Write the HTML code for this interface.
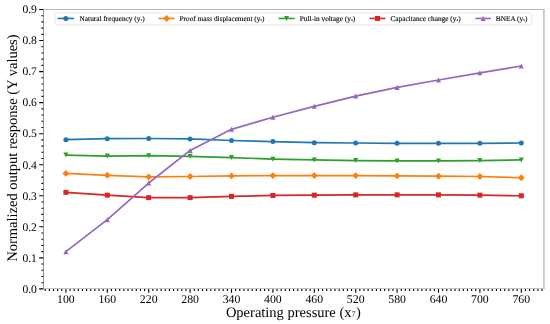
<!DOCTYPE html><html><head><meta charset="utf-8"><title>chart</title><style>html,body{margin:0;padding:0;background:#fff}svg{display:block}text{text-rendering:geometricPrecision;font-family:"Liberation Serif","DejaVu Serif",serif;fill:#000}</style></head><body>
<svg width="550" height="324" viewBox="0 0 550 324">
<rect width="550" height="324" fill="#fff"/>
<path d="M43.5,9.5 H544.6" fill="none" stroke="#999" stroke-width="0.7"/>
<path d="M543.9,9.2 V289" fill="none" stroke="#bdbdbd" stroke-width="1.5"/>
<path d="M43.5,288.5 H544.6" fill="none" stroke="#c4c4c4" stroke-width="1"/>
<polyline points="65.90,139.67 107.30,138.71 148.70,138.49 190.10,138.96 231.50,140.51 272.90,141.59 314.30,142.68 355.70,142.99 397.10,143.30 438.50,143.30 479.90,143.30 521.30,142.99" fill="none" stroke="#1f77b4" stroke-width="1.7" stroke-linejoin="round"/>
<circle cx="65.90" cy="139.67" r="2.50" fill="#1f77b4"/>
<circle cx="107.30" cy="138.71" r="2.50" fill="#1f77b4"/>
<circle cx="148.70" cy="138.49" r="2.50" fill="#1f77b4"/>
<circle cx="190.10" cy="138.96" r="2.50" fill="#1f77b4"/>
<circle cx="231.50" cy="140.51" r="2.50" fill="#1f77b4"/>
<circle cx="272.90" cy="141.59" r="2.50" fill="#1f77b4"/>
<circle cx="314.30" cy="142.68" r="2.50" fill="#1f77b4"/>
<circle cx="355.70" cy="142.99" r="2.50" fill="#1f77b4"/>
<circle cx="397.10" cy="143.30" r="2.50" fill="#1f77b4"/>
<circle cx="438.50" cy="143.30" r="2.50" fill="#1f77b4"/>
<circle cx="479.90" cy="143.30" r="2.50" fill="#1f77b4"/>
<circle cx="521.30" cy="142.99" r="2.50" fill="#1f77b4"/>
<polyline points="65.90,173.41 107.30,175.28 148.70,176.83 190.10,176.52 231.50,175.90 272.90,175.59 314.30,175.59 355.70,175.59 397.10,175.90 438.50,176.21 479.90,176.52 521.30,177.76" fill="none" stroke="#ff7f0e" stroke-width="1.7" stroke-linejoin="round"/>
<polygon points="65.90,169.96 69.35,173.41 65.90,176.86 62.45,173.41" fill="#ff7f0e"/>
<polygon points="107.30,171.83 110.75,175.28 107.30,178.73 103.85,175.28" fill="#ff7f0e"/>
<polygon points="148.70,173.38 152.15,176.83 148.70,180.28 145.25,176.83" fill="#ff7f0e"/>
<polygon points="190.10,173.07 193.55,176.52 190.10,179.97 186.65,176.52" fill="#ff7f0e"/>
<polygon points="231.50,172.45 234.95,175.90 231.50,179.35 228.05,175.90" fill="#ff7f0e"/>
<polygon points="272.90,172.14 276.35,175.59 272.90,179.04 269.45,175.59" fill="#ff7f0e"/>
<polygon points="314.30,172.14 317.75,175.59 314.30,179.04 310.85,175.59" fill="#ff7f0e"/>
<polygon points="355.70,172.14 359.15,175.59 355.70,179.04 352.25,175.59" fill="#ff7f0e"/>
<polygon points="397.10,172.45 400.55,175.90 397.10,179.35 393.65,175.90" fill="#ff7f0e"/>
<polygon points="438.50,172.76 441.95,176.21 438.50,179.66 435.05,176.21" fill="#ff7f0e"/>
<polygon points="479.90,173.07 483.35,176.52 479.90,179.97 476.45,176.52" fill="#ff7f0e"/>
<polygon points="521.30,174.31 524.75,177.76 521.30,181.21 517.85,177.76" fill="#ff7f0e"/>
<polyline points="65.90,155.10 107.30,156.03 148.70,155.72 190.10,156.34 231.50,157.58 272.90,159.13 314.30,159.97 355.70,160.59 397.10,160.90 438.50,160.90 479.90,160.59 521.30,159.97" fill="none" stroke="#2ca02c" stroke-width="1.7" stroke-linejoin="round"/>
<polygon points="65.90,157.60 68.40,152.60 63.40,152.60" fill="#2ca02c"/>
<polygon points="107.30,158.53 109.80,153.53 104.80,153.53" fill="#2ca02c"/>
<polygon points="148.70,158.22 151.20,153.22 146.20,153.22" fill="#2ca02c"/>
<polygon points="190.10,158.84 192.60,153.84 187.60,153.84" fill="#2ca02c"/>
<polygon points="231.50,160.08 234.00,155.08 229.00,155.08" fill="#2ca02c"/>
<polygon points="272.90,161.63 275.40,156.63 270.40,156.63" fill="#2ca02c"/>
<polygon points="314.30,162.47 316.80,157.47 311.80,157.47" fill="#2ca02c"/>
<polygon points="355.70,163.09 358.20,158.09 353.20,158.09" fill="#2ca02c"/>
<polygon points="397.10,163.40 399.60,158.40 394.60,158.40" fill="#2ca02c"/>
<polygon points="438.50,163.40 441.00,158.40 436.00,158.40" fill="#2ca02c"/>
<polygon points="479.90,163.09 482.40,158.09 477.40,158.09" fill="#2ca02c"/>
<polygon points="521.30,162.47 523.80,157.47 518.80,157.47" fill="#2ca02c"/>
<polyline points="65.90,192.35 107.30,195.15 148.70,197.63 190.10,197.63 231.50,196.39 272.90,195.46 314.30,195.15 355.70,194.84 397.10,194.84 438.50,194.84 479.90,195.15 521.30,195.77" fill="none" stroke="#d62728" stroke-width="1.7" stroke-linejoin="round"/>
<rect x="63.40" y="189.85" width="5.00" height="5.00" fill="#d62728"/>
<rect x="104.80" y="192.65" width="5.00" height="5.00" fill="#d62728"/>
<rect x="146.20" y="195.13" width="5.00" height="5.00" fill="#d62728"/>
<rect x="187.60" y="195.13" width="5.00" height="5.00" fill="#d62728"/>
<rect x="229.00" y="193.89" width="5.00" height="5.00" fill="#d62728"/>
<rect x="270.40" y="192.96" width="5.00" height="5.00" fill="#d62728"/>
<rect x="311.80" y="192.65" width="5.00" height="5.00" fill="#d62728"/>
<rect x="353.20" y="192.34" width="5.00" height="5.00" fill="#d62728"/>
<rect x="394.60" y="192.34" width="5.00" height="5.00" fill="#d62728"/>
<rect x="436.00" y="192.34" width="5.00" height="5.00" fill="#d62728"/>
<rect x="477.40" y="192.65" width="5.00" height="5.00" fill="#d62728"/>
<rect x="518.80" y="193.27" width="5.00" height="5.00" fill="#d62728"/>
<polyline points="65.90,251.65 107.30,219.67 148.70,183.04 190.10,150.44 231.50,129.33 272.90,117.22 314.30,106.36 355.70,96.11 397.10,87.42 438.50,79.97 479.90,72.83 521.30,66.00" fill="none" stroke="#9467bd" stroke-width="1.7" stroke-linejoin="round"/>
<polygon points="65.90,249.15 68.40,254.15 63.40,254.15" fill="#9467bd"/>
<polygon points="107.30,217.17 109.80,222.17 104.80,222.17" fill="#9467bd"/>
<polygon points="148.70,180.54 151.20,185.54 146.20,185.54" fill="#9467bd"/>
<polygon points="190.10,147.94 192.60,152.94 187.60,152.94" fill="#9467bd"/>
<polygon points="231.50,126.83 234.00,131.83 229.00,131.83" fill="#9467bd"/>
<polygon points="272.90,114.72 275.40,119.72 270.40,119.72" fill="#9467bd"/>
<polygon points="314.30,103.86 316.80,108.86 311.80,108.86" fill="#9467bd"/>
<polygon points="355.70,93.61 358.20,98.61 353.20,98.61" fill="#9467bd"/>
<polygon points="397.10,84.92 399.60,89.92 394.60,89.92" fill="#9467bd"/>
<polygon points="438.50,77.47 441.00,82.47 436.00,82.47" fill="#9467bd"/>
<polygon points="479.90,70.33 482.40,75.33 477.40,75.33" fill="#9467bd"/>
<polygon points="521.30,63.50 523.80,68.50 518.80,68.50" fill="#9467bd"/>
<path d="M43.5,288.90 h-4.3 M43.5,257.86 h-4.3 M43.5,226.81 h-4.3 M43.5,195.77 h-4.3 M43.5,164.72 h-4.3 M43.5,133.68 h-4.3 M43.5,102.63 h-4.3 M43.5,71.59 h-4.3 M43.5,40.54 h-4.3 M43.5,9.50 h-4.3 M65.90,288.9 v3.9 M107.30,288.9 v3.9 M148.70,288.9 v3.9 M190.10,288.9 v3.9 M231.50,288.9 v3.9 M272.90,288.9 v3.9 M314.30,288.9 v3.9 M355.70,288.9 v3.9 M397.10,288.9 v3.9 M438.50,288.9 v3.9 M479.90,288.9 v3.9 M521.30,288.9 v3.9" stroke="#000" stroke-width="1.1" fill="none"/>
<path d="M43.5,282.69 h-2.1 M43.5,276.48 h-2.1 M43.5,270.27 h-2.1 M43.5,264.06 h-2.1 M43.5,251.65 h-2.1 M43.5,245.44 h-2.1 M43.5,239.23 h-2.1 M43.5,233.02 h-2.1 M43.5,220.60 h-2.1 M43.5,214.39 h-2.1 M43.5,208.18 h-2.1 M43.5,201.98 h-2.1 M43.5,189.56 h-2.1 M43.5,183.35 h-2.1 M43.5,177.14 h-2.1 M43.5,170.93 h-2.1 M43.5,158.51 h-2.1 M43.5,152.30 h-2.1 M43.5,146.10 h-2.1 M43.5,139.89 h-2.1 M43.5,127.47 h-2.1 M43.5,121.26 h-2.1 M43.5,115.05 h-2.1 M43.5,108.84 h-2.1 M43.5,96.42 h-2.1 M43.5,90.22 h-2.1 M43.5,84.01 h-2.1 M43.5,77.80 h-2.1 M43.5,65.38 h-2.1 M43.5,59.17 h-2.1 M43.5,52.96 h-2.1 M43.5,46.75 h-2.1 M43.5,34.34 h-2.1 M43.5,28.13 h-2.1 M43.5,21.92 h-2.1 M43.5,15.71 h-2.1 M45.20,288.9 v2.2 M49.34,288.9 v2.2 M53.48,288.9 v2.2 M57.62,288.9 v2.2 M61.76,288.9 v2.2 M70.04,288.9 v2.2 M74.18,288.9 v2.2 M78.32,288.9 v2.2 M82.46,288.9 v2.2 M86.60,288.9 v2.2 M90.74,288.9 v2.2 M94.88,288.9 v2.2 M99.02,288.9 v2.2 M103.16,288.9 v2.2 M111.44,288.9 v2.2 M115.58,288.9 v2.2 M119.72,288.9 v2.2 M123.86,288.9 v2.2 M128.00,288.9 v2.2 M132.14,288.9 v2.2 M136.28,288.9 v2.2 M140.42,288.9 v2.2 M144.56,288.9 v2.2 M152.84,288.9 v2.2 M156.98,288.9 v2.2 M161.12,288.9 v2.2 M165.26,288.9 v2.2 M169.40,288.9 v2.2 M173.54,288.9 v2.2 M177.68,288.9 v2.2 M181.82,288.9 v2.2 M185.96,288.9 v2.2 M194.24,288.9 v2.2 M198.38,288.9 v2.2 M202.52,288.9 v2.2 M206.66,288.9 v2.2 M210.80,288.9 v2.2 M214.94,288.9 v2.2 M219.08,288.9 v2.2 M223.22,288.9 v2.2 M227.36,288.9 v2.2 M235.64,288.9 v2.2 M239.78,288.9 v2.2 M243.92,288.9 v2.2 M248.06,288.9 v2.2 M252.20,288.9 v2.2 M256.34,288.9 v2.2 M260.48,288.9 v2.2 M264.62,288.9 v2.2 M268.76,288.9 v2.2 M277.04,288.9 v2.2 M281.18,288.9 v2.2 M285.32,288.9 v2.2 M289.46,288.9 v2.2 M293.60,288.9 v2.2 M297.74,288.9 v2.2 M301.88,288.9 v2.2 M306.02,288.9 v2.2 M310.16,288.9 v2.2 M318.44,288.9 v2.2 M322.58,288.9 v2.2 M326.72,288.9 v2.2 M330.86,288.9 v2.2 M335.00,288.9 v2.2 M339.14,288.9 v2.2 M343.28,288.9 v2.2 M347.42,288.9 v2.2 M351.56,288.9 v2.2 M359.84,288.9 v2.2 M363.98,288.9 v2.2 M368.12,288.9 v2.2 M372.26,288.9 v2.2 M376.40,288.9 v2.2 M380.54,288.9 v2.2 M384.68,288.9 v2.2 M388.82,288.9 v2.2 M392.96,288.9 v2.2 M401.24,288.9 v2.2 M405.38,288.9 v2.2 M409.52,288.9 v2.2 M413.66,288.9 v2.2 M417.80,288.9 v2.2 M421.94,288.9 v2.2 M426.08,288.9 v2.2 M430.22,288.9 v2.2 M434.36,288.9 v2.2 M442.64,288.9 v2.2 M446.78,288.9 v2.2 M450.92,288.9 v2.2 M455.06,288.9 v2.2 M459.20,288.9 v2.2 M463.34,288.9 v2.2 M467.48,288.9 v2.2 M471.62,288.9 v2.2 M475.76,288.9 v2.2 M484.04,288.9 v2.2 M488.18,288.9 v2.2 M492.32,288.9 v2.2 M496.46,288.9 v2.2 M500.60,288.9 v2.2 M504.74,288.9 v2.2 M508.88,288.9 v2.2 M513.02,288.9 v2.2 M517.16,288.9 v2.2 M525.44,288.9 v2.2 M529.58,288.9 v2.2 M533.72,288.9 v2.2 M537.86,288.9 v2.2 M542.00,288.9 v2.2" stroke="#000" stroke-width="1.1" fill="none"/>
<path d="M43.5,8.9 V289" fill="none" stroke="#7a7a7a" stroke-width="0.8"/>
<text x="36.90" y="292.70" font-size="11.6" text-anchor="end">0.0</text>
<text x="36.90" y="261.66" font-size="11.6" text-anchor="end">0.1</text>
<text x="36.90" y="230.61" font-size="11.6" text-anchor="end">0.2</text>
<text x="36.90" y="199.57" font-size="11.6" text-anchor="end">0.3</text>
<text x="36.90" y="168.52" font-size="11.6" text-anchor="end">0.4</text>
<text x="36.90" y="137.48" font-size="11.6" text-anchor="end">0.5</text>
<text x="36.90" y="106.43" font-size="11.6" text-anchor="end">0.6</text>
<text x="36.90" y="75.39" font-size="11.6" text-anchor="end">0.7</text>
<text x="36.90" y="44.34" font-size="11.6" text-anchor="end">0.8</text>
<text x="36.90" y="13.30" font-size="11.6" text-anchor="end">0.9</text>
<text x="65.90" y="303.1" font-size="11.8" text-anchor="middle">100</text>
<text x="107.30" y="303.1" font-size="11.8" text-anchor="middle">160</text>
<text x="148.70" y="303.1" font-size="11.8" text-anchor="middle">220</text>
<text x="190.10" y="303.1" font-size="11.8" text-anchor="middle">280</text>
<text x="231.50" y="303.1" font-size="11.8" text-anchor="middle">340</text>
<text x="272.90" y="303.1" font-size="11.8" text-anchor="middle">400</text>
<text x="314.30" y="303.1" font-size="11.8" text-anchor="middle">460</text>
<text x="355.70" y="303.1" font-size="11.8" text-anchor="middle">520</text>
<text x="397.10" y="303.1" font-size="11.8" text-anchor="middle">580</text>
<text x="438.50" y="303.1" font-size="11.8" text-anchor="middle">640</text>
<text x="479.90" y="303.1" font-size="11.8" text-anchor="middle">700</text>
<text x="521.30" y="303.1" font-size="11.8" text-anchor="middle">760</text>
<text x="293.4" y="316.7" font-size="14.5" text-anchor="middle">Operating pressure (x<tspan font-size="13" dy="-2.3">₇</tspan><tspan dy="2.3">)</tspan></text>
<text transform="translate(17.0,148.1) rotate(-90)" font-size="14.5" text-anchor="middle">Normalized output response (Y values)</text>
<rect x="55.1" y="13.0" width="476.7" height="12.0" rx="1.2" fill="#fff" fill-opacity="0.8" stroke="#dcdcdc" stroke-width="0.7"/>
<path d="M57.6,18.45 H74.0" stroke="#1f77b4" stroke-width="1.6"/>
<circle cx="65.80" cy="18.45" r="2.50" fill="#1f77b4"/>
<text x="79.6" y="20.6" font-size="7.3" stroke="#000" stroke-width="0.12">Natural frequency (y<tspan font-size="5" dy="-0.6">₁</tspan><tspan dy="0.6">)</tspan></text>
<path d="M158.5,18.45 H174.6" stroke="#ff7f0e" stroke-width="1.6"/>
<polygon points="166.55,15.00 170.00,18.45 166.55,21.90 163.10,18.45" fill="#ff7f0e"/>
<text x="179.5" y="20.6" font-size="7.3" stroke="#000" stroke-width="0.12">Proof mass displacement (y<tspan font-size="5" dy="-0.6">₂</tspan><tspan dy="0.6">)</tspan></text>
<path d="M278.5,18.45 H294.6" stroke="#2ca02c" stroke-width="1.6"/>
<polygon points="286.55,20.95 289.05,15.95 284.05,15.95" fill="#2ca02c"/>
<text x="299.8" y="20.6" font-size="7.3" stroke="#000" stroke-width="0.12">Pull-in voltage (y<tspan font-size="5" dy="-0.6">₃</tspan><tspan dy="0.6">)</tspan></text>
<path d="M369.6,18.45 H385.4" stroke="#d62728" stroke-width="1.6"/>
<rect x="375.00" y="15.95" width="5.00" height="5.00" fill="#d62728"/>
<text x="390.4" y="20.6" font-size="7.3" stroke="#000" stroke-width="0.12">Capacitance change (y<tspan font-size="5" dy="-0.6">₄</tspan><tspan dy="0.6">)</tspan></text>
<path d="M475.4,18.45 H490.9" stroke="#9467bd" stroke-width="1.6"/>
<polygon points="483.15,15.95 485.65,20.95 480.65,20.95" fill="#9467bd"/>
<text x="495.8" y="20.6" font-size="7.3" stroke="#000" stroke-width="0.12">BNEA (y<tspan font-size="5" dy="-0.6">₅</tspan><tspan dy="0.6">)</tspan></text>
</svg></body></html>
